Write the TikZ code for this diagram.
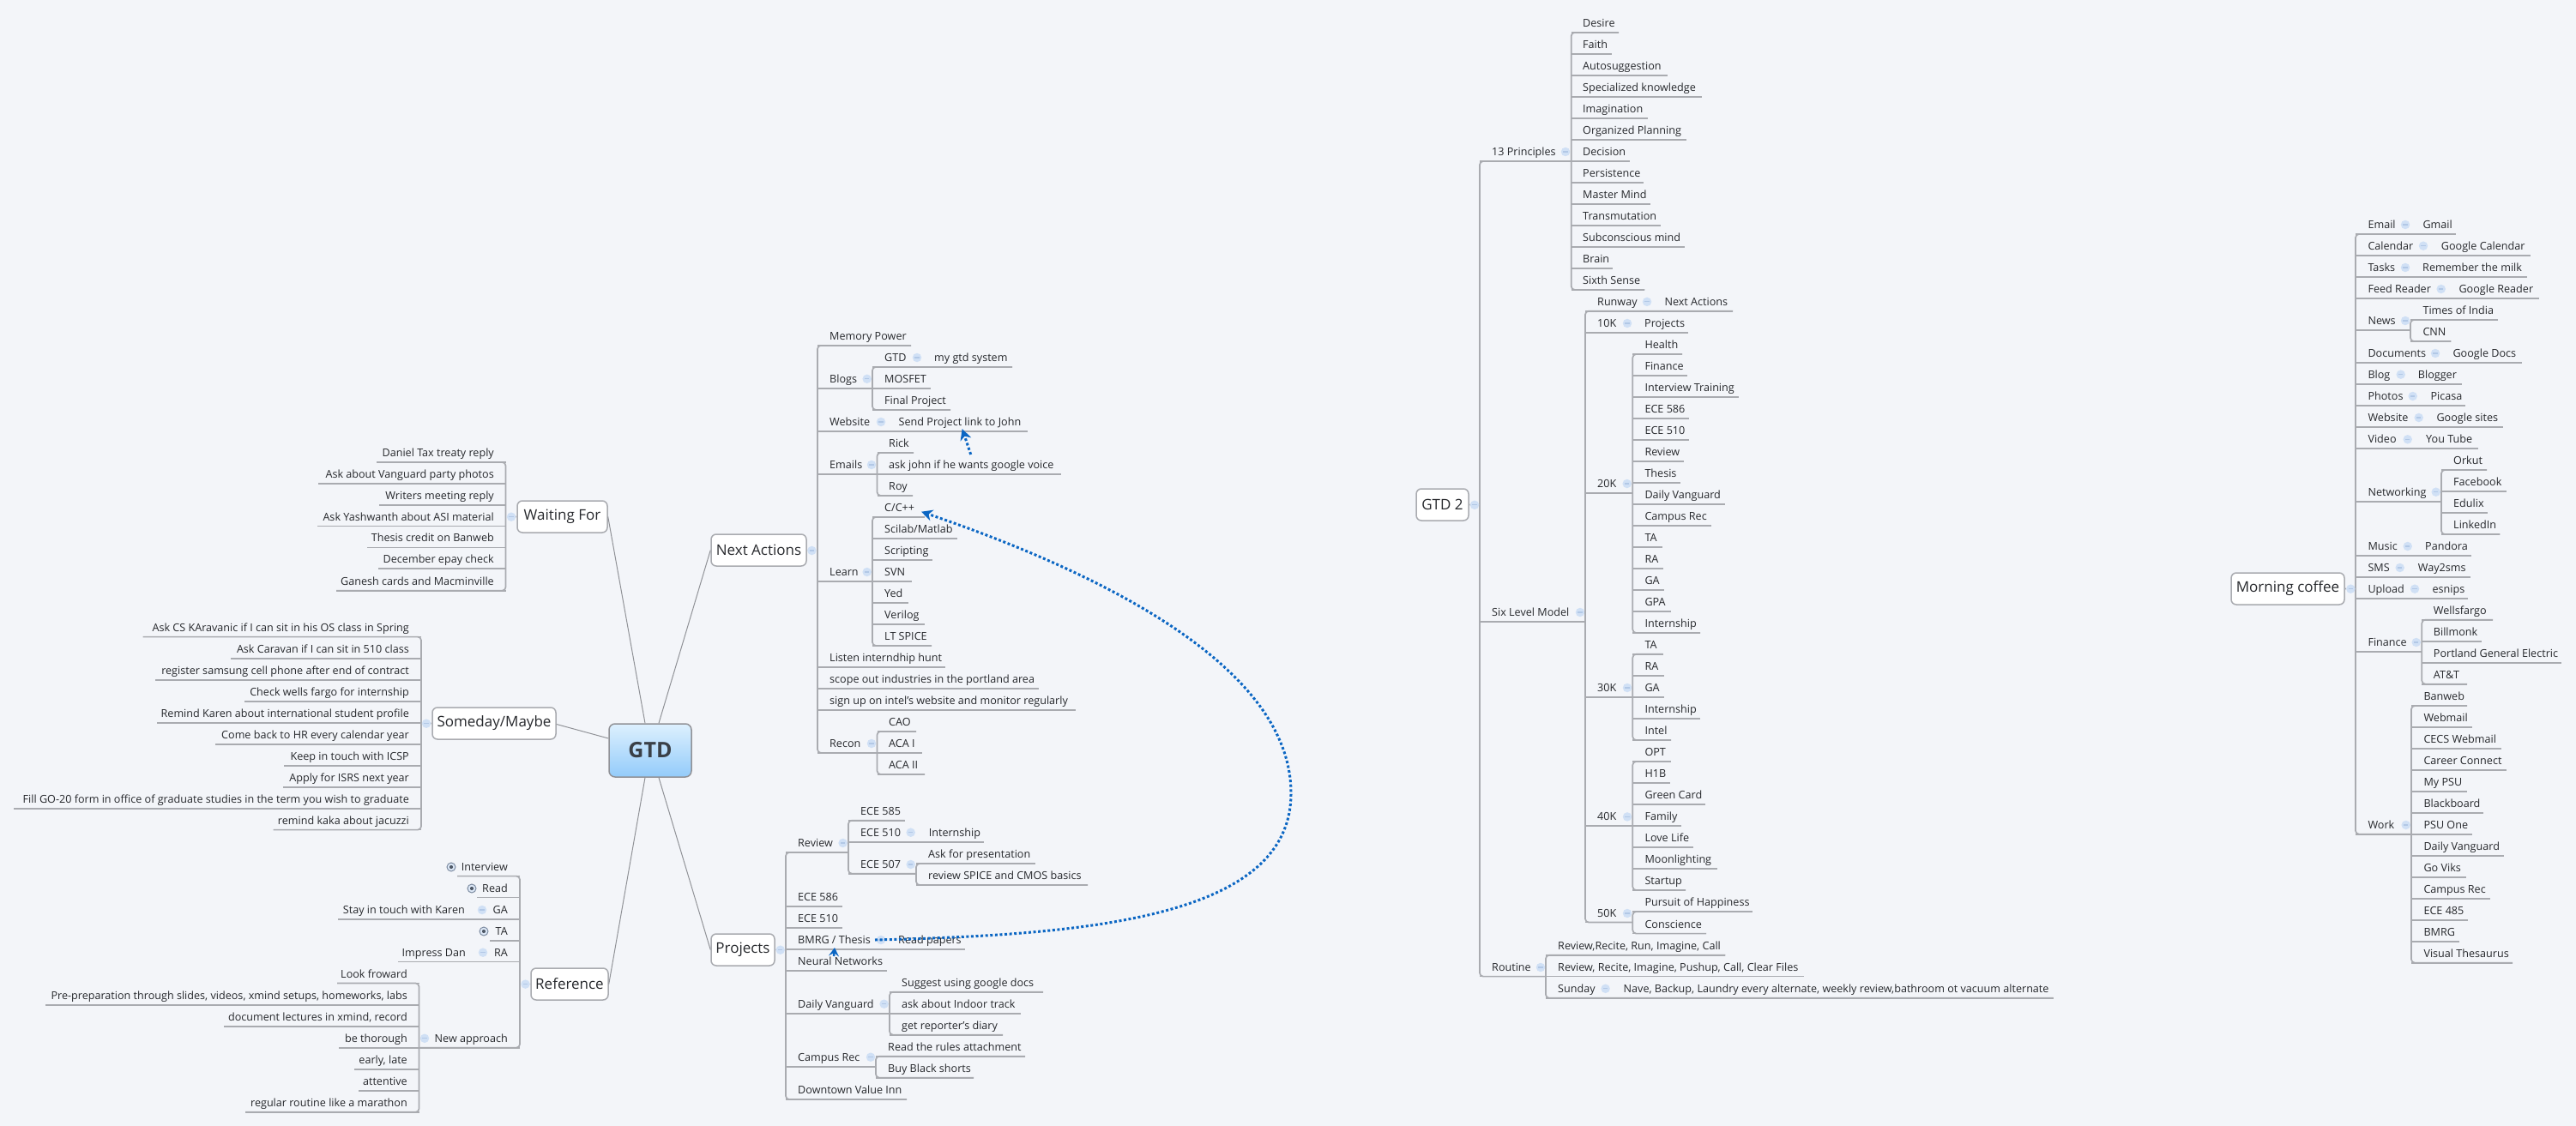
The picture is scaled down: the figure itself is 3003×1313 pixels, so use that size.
\documentclass[tikz,border=0pt]{standalone}
\usepackage{fontspec}
\setmainfont{Open Sans}
\usetikzlibrary{arrows.meta}
\definecolor{bgc}{HTML}{F3F5F9}
\definecolor{linec}{HTML}{A9ABB0}
\definecolor{branchc}{HTML}{909297}
\definecolor{textc}{HTML}{26282C}
\definecolor{relc}{HTML}{0B66C3}
\definecolor{btnc}{HTML}{D0E0F5}
\definecolor{btnd}{HTML}{B2C8E6}
\definecolor{gtop}{HTML}{DDF0FE}
\definecolor{gbot}{HTML}{93CBFA}
\definecolor{gtext}{HTML}{3A4047}
\tikzset{
  lbl/.style={inner sep=0pt,text=textc,font=\fontsize{12.6}{15}\selectfont},
  ul/.style={draw=linec,line width=1.7pt},
  tr/.style={draw=linec,line width=1.7pt,rounded corners=4pt},
  branch/.style={draw=branchc,line width=1pt},
  topicbox/.style={draw=linec,line width=1.5pt,fill=white,rounded corners=6pt,inner sep=0pt,text=textc,font=\fontsize{17}{20}\selectfont},
  centerbox/.style={draw=linec!85!black,line width=1.5pt,rounded corners=7pt,inner sep=0pt,top color=gtop,bottom color=gbot,text=gtext,font=\fontsize{25}{30}\selectfont\bfseries},
  btn/.style={circle,fill=btnc,draw=none,minimum size=10.5pt,inner sep=0pt},
  mns/.style={draw=btnd,line width=1.2pt},
  pls/.style={circle,fill=btnc!70!white,draw=btnd!70!black,line width=1pt,minimum size=10pt,inner sep=0pt},
  rel/.style={draw=relc,line width=3pt,dash pattern=on 3pt off 2.6pt,-{Stealth[length=13pt,width=13pt,inset=4pt]}}
}
% right-going leaf: name, trunk x, text x, underline y, end x, text
\newcommand{\Rt}[6]{%
  \node[lbl,anchor=base west] (#1) at (#3,#4-6.5) {#6};
  \coordinate (#1-a) at (#2,#4); \coordinate (#1-b) at (#5,#4);
  \draw[ul] (#1-a) -- (#1-b);}
% left-going leaf: name, trunk x, text right x, underline y, left x, text
\newcommand{\Lt}[6]{%
  \node[lbl,anchor=base east] (#1) at (#3,#4-6.5) {#6};
  \coordinate (#1-a) at (#2,#4); \coordinate (#1-b) at (#5,#4);
  \draw[ul] (#1-a) -- (#1-b);}
% extra text on an existing underline
\newcommand{\Tr}[4]{\node[lbl,anchor=base west] (#1) at (#2,#3-6.5) {#4};}
\newcommand{\Tl}[4]{\node[lbl,anchor=base east] (#1) at (#2,#3-6.5) {#4};}
\newcommand{\Trunk}[2]{\draw[tr] (#1-b) -- (#1-a) -- (#2-a) -- (#2-b);}
\newcommand{\Btn}[3]{\node[btn] (#1) at (#2,#3) {};
  \draw[mns] ([xshift=-2.6pt]#1.center) -- ([xshift=2.6pt]#1.center);}
\newcommand{\Pls}[3]{\node[pls] (#1) at (#2,#3) {};
  \fill[btnd!45!black] (#1.center) circle (2.1pt);}
\begin{document}
\begin{tikzpicture}[x=1pt,y=-1pt]
\useasboundingbox (0,0) rectangle (3003,1313);
\fill[bgc] (0,0) rectangle (3003,1313);

% topics
\node[centerbox,minimum width=96pt,minimum height=62pt] (gtd) at (758,875) {GTD};
\node[topicbox,minimum width=105pt,minimum height=37pt] (wait) at (655.5,602.5) {Waiting For};
\node[topicbox,minimum width=144pt,minimum height=37pt] (some) at (576,843.5) {Someday/Maybe};
\node[topicbox,minimum width=90pt,minimum height=37pt] (refr) at (664,1147.5) {Reference};
\node[topicbox,minimum width=111pt,minimum height=37pt] (next) at (884.5,641.5) {Next Actions};
\node[topicbox,minimum width=74pt,minimum height=37pt] (proj) at (866,1107.5) {Projects};
\node[topicbox,minimum width=61pt,minimum height=37pt] (gtdtwo) at (1681.5,588.5) {GTD 2};
\node[topicbox,minimum width=132pt,minimum height=37pt] (morn) at (2667,686.5) {Morning coffee};

\draw[branch] ([xshift=-6pt]gtd.north) -- (wait.east);
\draw[branch] ([xshift=10pt]gtd.north) -- (next.west);
\draw[branch] ([yshift=14pt]gtd.west) -- ([yshift=-1pt]some.east);
\draw[branch] ([xshift=-6pt]gtd.south) -- (refr.east);
\draw[branch] ([xshift=10pt]gtd.south) -- (proj.west);

% Waiting For
\Lt{w1}{589.5}{576}{539}{439}{Daniel Tax treaty reply}
\Lt{w2}{589.5}{576}{564}{371}{Ask about Vanguard party photos}
\Lt{w3}{589.5}{576}{588.7}{442}{Writers meeting reply}
\Lt{w4}{589.5}{576}{613.5}{370}{Ask Yashwanth about ASI material}
\Lt{w5}{589.5}{576}{638.4}{428}{Thesis credit on Banweb}
\Lt{w6}{589.5}{576}{663.3}{441}{December epay check}
\Lt{w7}{589.5}{576}{688.7}{392}{Ganesh cards and Macminville}
\Trunk{w1}{w7}
\Btn{wb}{596}{602.7}
\draw[ul] (wait.west) -- (wb);

% Someday/Maybe
\Lt{s1}{491}{477}{742.6}{166.5}{Ask CS KAravanic if I can sit in his OS class in Spring}
\Lt{s2}{491}{477}{768}{269}{Ask Caravan if I can sit in 510 class}
\Lt{s3}{491}{477}{793}{181}{register samsung cell phone after end of contract}
\Lt{s4}{491}{477}{817.8}{285}{Check wells fargo for internship}
\Lt{s5}{491}{477}{842.7}{182.5}{Remind Karen about international student profile}
\Lt{s6}{491}{477}{868}{251}{Come back to HR every calendar year}
\Lt{s7}{491}{477}{893}{331}{Keep in touch with ICSP}
\Lt{s8}{491}{477}{918}{329.5}{Apply for ISRS next year}
\Lt{s9}{491}{477}{942.8}{16}{Fill GO-20 form in office of graduate studies in the term you wish to graduate}
\Lt{s10}{491}{477}{967.6}{318.6}{remind kaka about jacuzzi}
\Trunk{s1}{s10}
\Btn{sb}{497}{843.7}
\draw[ul] (some.west) -- (sb);

% Reference
\Lt{r1}{606}{592}{1021.6}{533}{Interview}
\Pls{r1p}{526}{1011}
\Lt{r2}{606}{592}{1046.5}{556}{Read}
\Pls{r2p}{550}{1036}
\Lt{r3}{606}{592}{1072}{394}{GA}
\Tl{r3k}{542}{1072}{Stay in touch with Karen}
\Btn{r3b}{562}{1061}
\Lt{r4}{606}{592}{1096.8}{570.6}{TA}
\Pls{r4p}{564}{1086}
\Lt{r5}{606}{592}{1121.6}{464}{RA}
\Tl{r5k}{543}{1121.6}{Impress Dan}
\Btn{r5b}{563}{1110.7}
\Lt{r6}{606}{592}{1221.7}{488.5}{New approach}
\Trunk{r1}{r6}
\Btn{r6b}{495}{1210.8}
\Btn{rb}{612.5}{1147.6}
\draw[ul] (refr.west) -- (rb);
\Lt{n1}{488.5}{475}{1146.5}{393}{Look froward}
\Lt{n2}{488.5}{475}{1172}{53}{Pre-preparation through slides, videos, xmind setups, homeworks, labs}
\Lt{n3}{488.5}{475}{1196.8}{261}{document lectures in xmind, record}
\Lt{n4}{488.5}{475}{1221.7}{395}{be thorough}
\Lt{n5}{488.5}{475}{1247}{413}{early, late}
\Lt{n6}{488.5}{475}{1272}{418}{attentive}
\Lt{n7}{488.5}{475}{1296.8}{286}{regular routine like a marathon}
\Trunk{n1}{n7}

% Next Actions
\Rt{a1}{953}{967}{402.9}{1062}{Memory Power}
\Rt{a2}{953}{967}{452.9}{1017}{Blogs}
\Btn{a2b}{1010.7}{441.8}
\Rt{a3}{953}{967}{502.9}{1198}{Website}
\Btn{a3b}{1027}{492}
\Tr{a3k}{1047.5}{502.9}{Send Project link to John}
\Rt{a4}{953}{967}{552.9}{1022.5}{Emails}
\Btn{a4b}{1016}{542}
\Rt{a5}{953}{967}{677.9}{1017}{Learn}
\Btn{a5b}{1010.7}{667}
\Rt{a6}{953}{967}{777.9}{1102}{Listen interndhip hunt}
\Rt{a7}{953}{967}{802.9}{1211}{scope out industries in the portland area}
\Rt{a8}{953}{967}{827.9}{1254}{sign up on intel's website and monitor regularly}
\Rt{a9}{953}{967}{877.9}{1022.5}{Recon}
\Btn{a9b}{1016}{867}
\Trunk{a1}{a9}
\Btn{ab}{946.4}{642}
\draw[ul] (next.east) -- (ab);
\Rt{b1}{1017}{1031}{427.9}{1180}{GTD}
\Btn{b1b}{1069}{417}
\Tr{b1k}{1089}{427.9}{my gtd system}
\Rt{b2}{1017}{1031}{452.9}{1085}{MOSFET}
\Rt{b3}{1017}{1031}{477.9}{1108}{Final Project}
\Trunk{b1}{b3}
\Rt{e1}{1022.5}{1036}{527.9}{1065}{Rick}
\Rt{e2}{1022.5}{1036}{552.9}{1237}{ask john if he wants google voice}
\Rt{e3}{1022.5}{1036}{577.9}{1064}{Roy}
\Trunk{e1}{e3}
\Rt{l1}{1017}{1031}{602.9}{1078}{C/C++}
\Rt{l2}{1017}{1031}{627.9}{1116}{Scilab/Matlab}
\Rt{l3}{1017}{1031}{652.9}{1087}{Scripting}
\Rt{l4}{1017}{1031}{677.9}{1063}{SVN}
\Rt{l5}{1017}{1031}{702.9}{1059}{Yed}
\Rt{l6}{1017}{1031}{727.9}{1078}{Verilog}
\Rt{l7}{1017}{1031}{752.9}{1086}{LT SPICE}
\Trunk{l1}{l7}
\Rt{c1}{1022.5}{1036}{852.9}{1068}{CAO}
\Rt{c2}{1022.5}{1036}{877.9}{1074.5}{ACA I}
\Rt{c3}{1022.5}{1036}{902.9}{1078}{ACA II}
\Trunk{c1}{c3}

% Projects
\Rt{p1}{916}{930}{994}{989}{Review}
\Btn{p1b}{982.6}{983}
\Rt{p2}{916}{930}{1056.7}{982}{ECE 586}
\Rt{p3}{916}{930}{1082}{982}{ECE 510}
\Rt{p4}{916}{930}{1107}{1125}{BMRG / Thesis}
\Btn{p4b}{1027}{1096}
\Tr{p4k}{1047}{1107}{Read papers}
\Rt{p5}{916}{930}{1131.7}{1034}{Neural Networks}
\Rt{p6}{916}{930}{1181.7}{1037}{Daily Vanguard}
\Btn{p6b}{1030.6}{1170.7}
\Rt{p7}{916}{930}{1243.7}{1021}{Campus Rec}
\Btn{p7b}{1015}{1232.7}
\Rt{p8}{916}{930}{1282}{1057}{Downtown Value Inn}
\Trunk{p1}{p8}
\Btn{pb}{909.7}{1107.7}
\draw[ul] (proj.east) -- (pb);
\Rt{v1}{989}{1003}{956.7}{1054.6}{ECE 585}
\Rt{v2}{989}{1003}{981.7}{1147}{ECE 510}
\Btn{v2b}{1061.7}{970.7}
\Tr{v2k}{1082.6}{981.7}{Internship}
\Rt{v3}{989}{1003}{1018.7}{1068}{ECE 507}
\Btn{v3b}{1061.7}{1008}
\Trunk{v1}{v3}
\Rt{x1}{1068}{1082}{1007}{1206.6}{Ask for presentation}
\Rt{x2}{1068}{1082}{1032}{1268}{review SPICE and CMOS basics}
\Trunk{x1}{x2}
\Rt{d1}{1037}{1051}{1156.7}{1216}{Suggest using google docs}
\Rt{d2}{1037}{1051}{1181.7}{1190}{ask about Indoor track}
\Rt{d3}{1037}{1051}{1206.7}{1169}{get reporter's diary}
\Trunk{d1}{d3}
\Rt{q1}{1021}{1035}{1231.7}{1195}{Read the rules attachment}
\Rt{q2}{1021}{1035}{1256.7}{1135}{Buy Black shorts}
\Trunk{q1}{q2}

% GTD 2
\Rt{g1}{1725}{1739}{188}{1831.7}{13 Principles}
\Btn{g1b}{1825}{177}
\Rt{g2}{1725}{1739}{725}{1848}{Six Level Model}
\Btn{g2b}{1842}{714}
\Rt{g3}{1725}{1739}{1138.6}{1802}{Routine}
\Btn{g3b}{1796}{1128}
\Trunk{g1}{g3}
\Btn{gb}{1719}{588.8}
\draw[ul] (gtdtwo.east) -- (gb);
\Rt{h1}{1831.7}{1845}{37.9}{1887}{Desire}
\Rt{h2}{1831.7}{1845}{62.9}{1879}{Faith}
\Rt{h3}{1831.7}{1845}{87.9}{1943.7}{Autosuggestion}
\Rt{h4}{1831.7}{1845}{112.9}{1983.7}{Specialized knowledge}
\Rt{h5}{1831.7}{1845}{137.9}{1921}{Imagination}
\Rt{h6}{1831.7}{1845}{162.9}{1965.7}{Organized Planning}
\Rt{h7}{1831.7}{1845}{187.9}{1900}{Decision}
\Rt{h8}{1831.7}{1845}{212.9}{1915.7}{Persistence}
\Rt{h9}{1831.7}{1845}{237.9}{1924}{Master Mind}
\Rt{h10}{1831.7}{1845}{262.9}{1935.7}{Transmutation}
\Rt{h11}{1831.7}{1845}{287.9}{1964}{Subconscious mind}
\Rt{h12}{1831.7}{1845}{312.9}{1880}{Brain}
\Rt{h13}{1831.7}{1845}{337.9}{1917.3}{Sixth Sense}
\Trunk{h1}{h13}
\Rt{k1}{1848}{1862}{362.8}{2020}{Runway}
\Btn{k1b}{1920}{351.9}
\Tr{k1k}{1940.3}{362.8}{Next Actions}
\Rt{k2}{1848}{1862}{388}{1968}{10K}
\Btn{k2b}{1897}{377}
\Tr{k2k}{1917}{388}{Projects}
\Rt{k3}{1848}{1862}{575}{1903}{20K}
\Btn{k3b}{1896.7}{564}
\Rt{k4}{1848}{1862}{812.8}{1903}{30K}
\Btn{k4b}{1897}{802}
\Rt{k5}{1848}{1862}{963}{1903}{40K}
\Btn{k5b}{1897}{952.4}
\Rt{k6}{1848}{1862}{1075.5}{1903}{50K}
\Btn{k6b}{1897}{1065}
\Trunk{k1}{k6}
\Rt{m1}{1903.3}{1917.3}{413}{1961}{Health}
\Rt{m2}{1903.3}{1917.3}{438}{1967}{Finance}
\Rt{m3}{1903.3}{1917.3}{463}{2026.7}{Interview Training}
\Rt{m4}{1903.3}{1917.3}{488}{1969}{ECE 586}
\Rt{m5}{1903.3}{1917.3}{513}{1969}{ECE 510}
\Rt{m6}{1903.3}{1917.3}{538}{1963}{Review}
\Rt{m7}{1903.3}{1917.3}{563}{1959}{Thesis}
\Rt{m8}{1903.3}{1917.3}{588}{2011}{Daily Vanguard}
\Rt{m9}{1903.3}{1917.3}{613}{1995}{Campus Rec}
\Rt{m10}{1903.3}{1917.3}{638}{1938}{TA}
\Rt{m11}{1903.3}{1917.3}{663}{1938.5}{RA}
\Rt{m12}{1903.3}{1917.3}{688}{1940}{GA}
\Rt{m13}{1903.3}{1917.3}{713}{1948}{GPA}
\Rt{m14}{1903.3}{1917.3}{738}{1982}{Internship}
\Trunk{m1}{m14}
\Rt{o1}{1903.3}{1917.3}{762.8}{1938.5}{TA}
\Rt{o2}{1903.3}{1917.3}{788}{1939.5}{RA}
\Rt{o3}{1903.3}{1917.3}{812.8}{1940}{GA}
\Rt{o4}{1903.3}{1917.3}{838}{1982}{Internship}
\Rt{o5}{1903.3}{1917.3}{863}{1948}{Intel}
\Trunk{o1}{o5}
\Rt{t1}{1903.3}{1917.3}{888}{1947.7}{OPT}
\Rt{t2}{1903.3}{1917.3}{913}{1947}{H1B}
\Rt{t3}{1903.3}{1917.3}{938}{1988}{Green Card}
\Rt{t4}{1903.3}{1917.3}{963}{1960}{Family}
\Rt{t5}{1903.3}{1917.3}{988}{1974}{Love Life}
\Rt{t6}{1903.3}{1917.3}{1013}{2002}{Moonlighting}
\Rt{t7}{1903.3}{1917.3}{1038}{1965}{Startup}
\Trunk{t1}{t7}
\Rt{y1}{1903.3}{1917.3}{1063}{2042.5}{Pursuit of Happiness}
\Rt{y2}{1903.3}{1917.3}{1088.6}{1989}{Conscience}
\Trunk{y1}{y2}
\Rt{u1}{1802}{1816}{1113.8}{2011.4}{Review,Recite, Run, Imagine, Call}
\Rt{u2}{1802}{1816}{1138.6}{2102.8}{Review, Recite, Imagine, Pushup, Call, Clear Files}
\Rt{u3}{1802}{1816}{1163.8}{2393.6}{Sunday}
\Btn{u3b}{1871.6}{1152.8}
\Tr{u3k}{1892.5}{1163.8}{Nave, Backup, Laundry every alternate, weekly review,bathroom ot vacuum alternate}
\Trunk{u1}{u3}

% Morning coffee
\Rt{f1}{2746}{2760.3}{273}{2862.7}{Email}
\Btn{f1b}{2804}{262}
\Tr{f1k}{2824.3}{273}{Gmail}
\Rt{f2}{2746}{2760.3}{298}{2950}{Calendar}
\Btn{f2b}{2825}{286.7}
\Tr{f2k}{2845.7}{298}{Google Calendar}
\Rt{f3}{2746}{2760.3}{323}{2945.7}{Tasks}
\Btn{f3b}{2804}{312}
\Tr{f3k}{2824}{323}{Remember the milk}
\Rt{f4}{2746}{2760.3}{348}{2960}{Feed Reader}
\Btn{f4b}{2845.7}{337}
\Tr{f4k}{2866.3}{348}{Google Reader}
\Rt{f5}{2746}{2760.3}{385}{2810}{News}
\Btn{f5b}{2804}{374}
\Rt{f6}{2746}{2760.3}{423}{2940}{Documents}
\Btn{f6b}{2839}{412}
\Tr{f6k}{2859.3}{423}{Google Docs}
\Rt{f7}{2746}{2760.3}{448}{2870}{Blog}
\Btn{f7b}{2798.7}{436.7}
\Tr{f7k}{2818.7}{448}{Blogger}
\Rt{f8}{2746}{2760.3}{473}{2874.3}{Photos}
\Btn{f8b}{2812.7}{462}
\Tr{f8k}{2833.3}{473}{Picasa}
\Rt{f9}{2746}{2760.3}{498}{2918}{Website}
\Btn{f9b}{2819.7}{487}
\Tr{f9k}{2840.3}{498}{Google sites}
\Rt{f10}{2746}{2760.3}{523}{2889.3}{Video}
\Btn{f10b}{2806.7}{512.3}
\Tr{f10k}{2828}{523}{You Tube}
\Rt{f11}{2746}{2760.3}{585.3}{2846}{Networking}
\Btn{f11b}{2839.7}{573.7}
\Rt{f12}{2746}{2760.3}{648}{2881}{Music}
\Btn{f12b}{2806.7}{637}
\Tr{f12k}{2827}{648}{Pandora}
\Rt{f13}{2746}{2760.3}{673}{2880}{SMS}
\Btn{f13b}{2797.7}{662}
\Tr{f13k}{2818.7}{673}{Way2sms}
\Rt{f14}{2746}{2760.3}{698}{2877}{Upload}
\Btn{f14b}{2815}{686.7}
\Tr{f14k}{2835.3}{698}{esnips}
\Rt{f15}{2746}{2760.3}{760}{2823.3}{Finance}
\Btn{f15b}{2816.7}{749}
\Rt{f16}{2746}{2760.3}{972.7}{2811}{Work}
\Btn{f16b}{2804.7}{962}
\Trunk{f1}{f16}
\Btn{fb}{2740.3}{686.7}
\draw[ul] (morn.east) -- (fb);
\Rt{i1}{2810}{2824.3}{373}{2911.7}{Times of India}
\Rt{i2}{2810}{2824.3}{398}{2857.3}{CNN}
\Trunk{i1}{i2}
\Rt{z1}{2846}{2860}{548}{2899}{Orkut}
\Rt{z2}{2846}{2860}{573}{2922.3}{Facebook}
\Rt{z3}{2846}{2860}{598}{2900}{Edulix}
\Rt{z4}{2846}{2860}{623}{2914.3}{LinkedIn}
\Trunk{z1}{z4}
\Rt{j1}{2823.3}{2836.7}{722.7}{2906}{Wellsfargo}
\Rt{j2}{2823.3}{2836.7}{748}{2892.7}{Billmonk}
\Rt{j3}{2823.3}{2836.7}{773}{2986.3}{Portland General Electric}
\Rt{j4}{2823.3}{2836.7}{797.7}{2876}{AT\&T}
\Trunk{j1}{j4}
\Rt{w21}{2811}{2825.3}{823}{2876}{Banweb}
\Rt{w22}{2811}{2825.3}{848}{2882.3}{Webmail}
\Rt{w23}{2811}{2825.3}{872.7}{2915.7}{CECS Webmail}
\Rt{w24}{2811}{2825.3}{897.7}{2922.3}{Career Connect}
\Rt{w25}{2811}{2825.3}{923}{2876}{My PSU}
\Rt{w26}{2811}{2825.3}{948}{2894.7}{Blackboard}
\Rt{w27}{2811}{2825.3}{972.7}{2882.3}{PSU One}
\Rt{w28}{2811}{2825.3}{997.7}{2919}{Daily Vanguard}
\Rt{w29}{2811}{2825.3}{1022.7}{2875}{Go Viks}
\Rt{w30}{2811}{2825.3}{1048}{2903}{Campus Rec}
\Rt{w31}{2811}{2825.3}{1073}{2877}{ECE 485}
\Rt{w32}{2811}{2825.3}{1098}{2866.7}{BMRG}
\Rt{w33}{2811}{2825.3}{1122.7}{2929}{Visual Thesaurus}
\Trunk{w21}{w33}

% relationships
\coordinate (relA) at (1020,1096);
\coordinate (relM) at (1505,925);
\coordinate (relB) at (1074,596.7);
\coordinate (relC) at (1131.7,530);
\coordinate (relD) at (1121.7,500);
\coordinate (relE) at (972,1115);
\coordinate (relF) at (973,1105);
\draw[rel] (relA) .. controls (1270,1090) and (1505,1070) .. (relM) .. controls (1505,789) and (1318,680) .. (relB);
\draw[rel] (relC) -- (relD);
\draw[draw=relc,line width=2.5pt,-{Stealth[length=10pt,width=12pt,inset=4pt]}] (relE) -- (relF);
\end{tikzpicture}
\end{document}
